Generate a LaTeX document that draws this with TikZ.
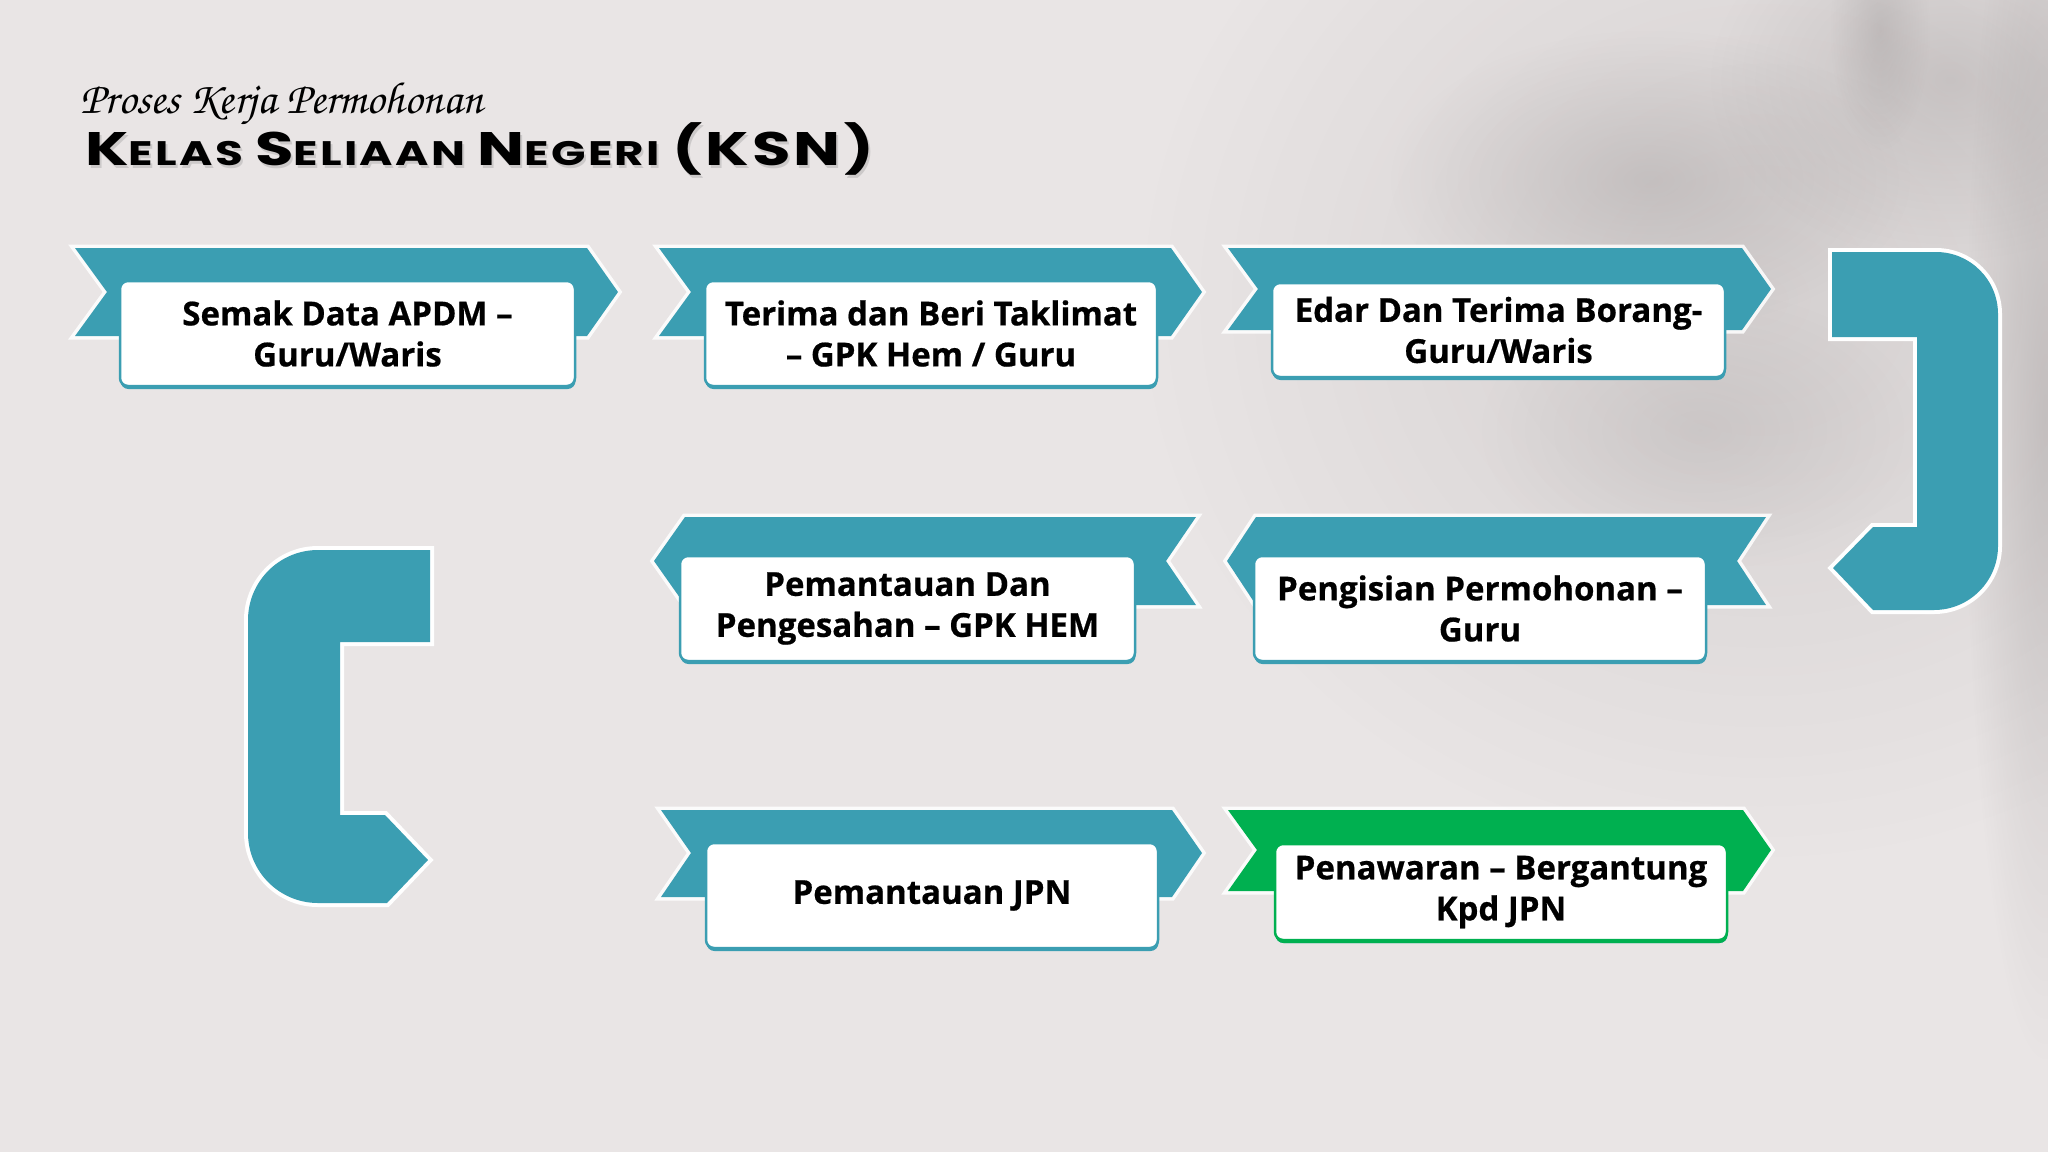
\documentclass[tikz,border=0pt]{standalone}
\usepackage[T1]{fontenc}
\usepackage{fontspec}
\setmainfont{Open Sans}[BoldFeatures={FakeBold=0.6}]
\newfontfamily\titlefont{Poppins}[FakeStretch=1.33,LetterSpace=7]
\newcommand{\scriptfnt}{\fontencoding{T1}\fontfamily{pzc}\fontseries{mb}\fontshape{it}\selectfont}
\newcommand{\ttlcap}[1]{{\fontsize{47}{47}\selectfont #1}}
\usetikzlibrary{shadows,fadings}
\definecolor{bgc}{RGB}{233,229,229}
\definecolor{tealc}{RGB}{59,158,178}
\definecolor{greenc}{RGB}{0,176,80}
\definecolor{shadowc}{RGB}{140,134,134}
\tikzfading[name=blob, inner color=transparent!0, outer color=transparent!100]
\begin{document}
\begin{tikzpicture}[x=1pt,y=-1pt,
  ribbon/.style={fill=tealc, preaction={draw=white, line width=7pt, line join=miter, opacity=0.85}},
  gribbon/.style={ribbon, fill=greenc},
  bracket/.style={fill=tealc, preaction={draw=white, line width=8pt, line join=miter}},
  stepbox/.style={draw=tealc, line width=2.5pt, fill=white, rounded corners=8pt, align=center,
    font=\bfseries\fontsize{33}{41}\selectfont, inner sep=0pt,
    drop shadow={shadow xshift=0.5pt, shadow yshift=-3pt, fill=tealc, opacity=1}},
  gstepbox/.style={stepbox, draw=greenc, drop shadow={shadow xshift=0.5pt, shadow yshift=-3pt, fill=greenc, opacity=1}},
  blobfill/.style={fill=shadowc, path fading=blob}
]
\useasboundingbox (0,0) rectangle (2048,1152);
\fill[bgc] (0,0) rectangle (2048,1152);

% blurred plant shadow (top right)
\fill[blobfill, opacity=0.22] (1760,300) ellipse [x radius=620, y radius=560];
\fill[blobfill, opacity=0.28] (1650,180) ellipse [x radius=260, y radius=150];
\fill[blobfill, opacity=0.28] (1950,80) ellipse [x radius=240, y radius=180];
\fill[blobfill, opacity=0.32] (2045,420) ellipse [x radius=80, y radius=640];
\fill[blobfill, opacity=0.18] (1700,430) ellipse [x radius=220, y radius=140];
\fill[blobfill, opacity=0.25] (1880,30) ellipse [x radius=50, y radius=120];

% titles
\node[anchor=base west, inner sep=0pt, font=\scriptfnt\fontsize{45}{45}\selectfont] (script) at (80,113) {Proses Kerja Permohonan};
\node[anchor=base west, inner sep=0pt, text=black!60, opacity=0.22, font=\titlefont\bfseries\fontsize{34}{34}\selectfont] (titleshadow) at (87,168)
  {\ttlcap{K}ELAS \ttlcap{S}ELIAAN \ttlcap{N}EGERI \ttlcap{(KSN)}};
\node[anchor=base west, inner sep=0pt, font=\titlefont\bfseries\fontsize{34}{34}\selectfont] (title) at (85,165)
  {\ttlcap{K}ELAS \ttlcap{S}ELIAAN \ttlcap{N}EGERI \ttlcap{(KSN)}};

% ribbons
\fill[ribbon] (75,248) -- (587,248) -- (618,292) -- (587,336) -- (75,336) -- (107,292) -- cycle;
\fill[ribbon] (659,248) -- (1171,248) -- (1202,292) -- (1171,336) -- (659,336) -- (691,292) -- cycle;
\fill[ribbon] (1228,248) -- (1742,248) -- (1771,289) -- (1742,330) -- (1228,330) -- (1258,289) -- cycle;
\fill[ribbon] (685,517) -- (1196,517) -- (1166,561) -- (1196,605) -- (685,605) -- (654,561) -- cycle;
\fill[ribbon] (1256,517) -- (1766,517) -- (1737,561) -- (1766,605) -- (1256,605) -- (1227,561) -- cycle;
\fill[ribbon] (661,810) -- (1172,810) -- (1202,853) -- (1172,897) -- (661,897) -- (691,853) -- cycle;
\fill[gribbon] (1228,810) -- (1743,810) -- (1771,850) -- (1743,891) -- (1228,891) -- (1257,850) -- cycle;

% boxes
\node[stepbox, minimum width=455pt, minimum height=105pt] (b1) at (347.5,333.5) {Semak Data APDM –\\Guru/Waris};
\node[stepbox, minimum width=452pt, minimum height=105pt] (b2) at (931,333.5) {Terima dan Beri Taklimat\\– GPK Hem / Guru};
\node[stepbox, minimum width=453pt, minimum height=94pt] (b3) at (1498.5,330) {Edar Dan Terima Borang-\\Guru/Waris};
\node[stepbox, minimum width=455pt, minimum height=105pt] (b4) at (907.5,608.5) {Pemantauan Dan\\Pengesahan – GPK HEM};
\node[stepbox, minimum width=452pt, minimum height=105pt] (b5) at (1480,608.5) {Pengisian Permohonan –\\Guru};
\node[stepbox, minimum width=452pt, minimum height=105pt] (b6) at (932,895.5) {Pemantauan JPN};
\node[gstepbox, minimum width=452pt, minimum height=96pt] (b7) at (1501,892) {Penawaran – Bergantung\\Kpd JPN};

% brackets
\fill[bracket] (1832,252) -- (1936,252) .. controls (1970.2,252) and (1998,279.8) .. (1998,314)
  -- (1998,546) .. controls (1998,581.3) and (1969.3,610) .. (1934,610)
  -- (1873,610) -- (1833,568) -- (1873,527) -- (1917,527) -- (1917,337) -- (1832,337) -- cycle;
\fill[bracket] (430,550) -- (318,550) .. controls (279.4,550) and (248,581.4) .. (248,620)
  -- (248,833) .. controls (248,871.6) and (279.4,903) .. (318,903)
  -- (387,903) -- (428,860) -- (385,815) -- (340,815) -- (340,642) -- (430,642) -- cycle;
\end{tikzpicture}
\end{document}
